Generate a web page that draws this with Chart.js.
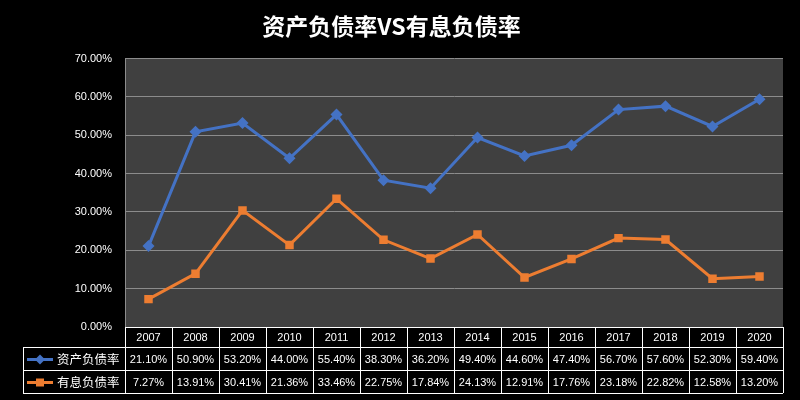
<!DOCTYPE html>
<html>
<head>
<meta charset="utf-8">
<script src="https://cdn.jsdelivr.net/npm/chart.js@4"></script>
<style>
    html, body { margin: 0; padding: 0; background: #000; }
    #chart { display: block; }
</style>
</head>
<body>
<canvas id="chart" width="800" height="400"></canvas>
<script>
// ── Data ────────────────────────────────────────────────────────

const years = ['2007', '2008', '2009', '2010', '2011', '2012', '2013',
               '2014', '2015', '2016', '2017', '2018', '2019', '2020'];
const seriesNames = ['资产负债率', '有息负债率'];
const debtRatio = [21.10, 50.90, 53.20, 44.00, 55.40, 38.30, 36.20,
                   49.40, 44.60, 47.40, 56.70, 57.60, 52.30, 59.40];
const interestDebtRatio = [7.27, 13.91, 30.41, 21.36, 33.46, 22.75, 17.84,
                           24.13, 12.91, 17.76, 23.18, 22.82, 12.58, 13.20];

const BLUE = '#4472C4';
const ORANGE = '#ED7D31';
const NUM_FONT = "11px 'Liberation Sans', sans-serif";
const CJK_FONT = "12.5px 'Noto Sans CJK SC', sans-serif";

const fmtPct = (v) => `${v.toFixed(2)}%`;

// ── Background + data table under the plot ──────────────────────

const tablePlugin = {
    id: 'dataTable',
    beforeDraw(chart) {
        const { ctx, chartArea: a } = chart;
        ctx.save();
        ctx.fillStyle = '#000';
        ctx.fillRect(0, 0, chart.width, chart.height);
        ctx.fillStyle = '#404040';
        ctx.fillRect(a.left, a.top, a.right - a.left, a.bottom - a.top);
        ctx.restore();
    },
    afterDraw(chart) {
        const { ctx, chartArea: a } = chart;
        const xs = chart.scales.x;
        const colW = (a.right - a.left) / years.length;
        const legendLeft = 23;
        const rows = [a.bottom, a.bottom + 20, a.bottom + 43, a.bottom + 66];
        const series = [
            { name: seriesNames[0], data: debtRatio, color: BLUE, shape: 'diamond' },
            { name: seriesNames[1], data: interestDebtRatio, color: ORANGE, shape: 'square' },
        ];

        ctx.save();
        ctx.strokeStyle = '#fff';
        ctx.lineWidth = 1;
        const hline = (x1, x2, y) => {
            ctx.beginPath();
            ctx.moveTo(x1, Math.round(y) + 0.5);
            ctx.lineTo(x2, Math.round(y) + 0.5);
            ctx.stroke();
        };
        const vline = (x, y1, y2) => {
            ctx.beginPath();
            ctx.moveTo(Math.round(x) + 0.5, y1);
            ctx.lineTo(Math.round(x) + 0.5, y2);
            ctx.stroke();
        };

        hline(a.left, a.right, rows[0]);
        for (let r = 1; r < rows.length; r++) hline(legendLeft, a.right, rows[r]);
        vline(legendLeft, rows[1], rows[3]);
        for (let i = 0; i <= years.length; i++) {
            vline(a.left + i * colW, rows[0], rows[3]);
        }

        ctx.fillStyle = '#fff';
        ctx.textAlign = 'center';
        ctx.textBaseline = 'middle';
        ctx.font = NUM_FONT;
        years.forEach((y, i) => {
            ctx.fillText(y, xs.getPixelForValue(i), (rows[0] + rows[1]) / 2 + 1);
        });

        series.forEach((s, r) => {
            const cy = (rows[r + 1] + rows[r + 2]) / 2 + 1;
            ctx.font = NUM_FONT;
            ctx.fillStyle = '#fff';
            ctx.textAlign = 'center';
            s.data.forEach((v, i) => ctx.fillText(fmtPct(v), xs.getPixelForValue(i), cy));

            // legend key
            ctx.strokeStyle = s.color;
            ctx.lineWidth = 3;
            ctx.beginPath();
            ctx.moveTo(27, cy);
            ctx.lineTo(53, cy);
            ctx.stroke();
            ctx.fillStyle = s.color;
            ctx.beginPath();
            if (s.shape === 'diamond') {
                ctx.moveTo(40, cy - 5);
                ctx.lineTo(45, cy);
                ctx.lineTo(40, cy + 5);
                ctx.lineTo(35, cy);
                ctx.closePath();
            } else {
                ctx.rect(36, cy - 4, 8, 8);
            }
            ctx.fill();

            ctx.fillStyle = '#fff';
            ctx.font = CJK_FONT;
            ctx.textAlign = 'left';
            ctx.fillText(s.name, 57, cy);
            ctx.strokeStyle = '#fff';
            ctx.lineWidth = 1;
        });
        ctx.restore();
    }
};

// ── Chart ───────────────────────────────────────────────────────

new Chart(document.getElementById('chart'), {
    type: 'line',
    data: {
        labels: years,
        datasets: [
            {
                label: seriesNames[0],
                data: debtRatio,
                borderColor: BLUE,
                backgroundColor: BLUE,
                borderWidth: 3,
                tension: 0,
                pointStyle: 'rectRot',
                pointRadius: 6,
                pointBorderWidth: 0,
            },
            {
                label: seriesNames[1],
                data: interestDebtRatio,
                borderColor: ORANGE,
                backgroundColor: ORANGE,
                borderWidth: 3,
                tension: 0,
                pointStyle: 'rect',
                pointRadius: 6,
                pointBorderWidth: 0,
            },
        ],
    },
    options: {
        responsive: false,
        devicePixelRatio: 1,
        animation: false,
        layout: { padding: { left: 0, right: 17, top: 0, bottom: 73 } },
        plugins: {
            legend: { display: false },
            tooltip: { enabled: false },
            title: {
                display: true,
                text: '资产负债率VS有息负债率',
                color: '#fff',
                font: { family: "'Noto Sans CJK SC', sans-serif", size: 23, weight: 'bold' },
                padding: { top: 12, bottom: 19 },
            },
        },
        scales: {
            x: { display: false, offset: true },
            y: {
                min: 0,
                max: 70,
                ticks: {
                    stepSize: 10,
                    callback: (v) => fmtPct(v),
                    color: '#fff',
                    padding: 13,
                    font: { family: "'Liberation Sans', sans-serif", size: 11 },
                },
                grid: { color: '#8c8c8c', drawTicks: false },
                border: { display: true, color: '#8c8c8c' },
                afterFit(scale) { scale.width = 125; },
            },
        },
    },
    plugins: [tablePlugin],
});
</script>
</body>
</html>
